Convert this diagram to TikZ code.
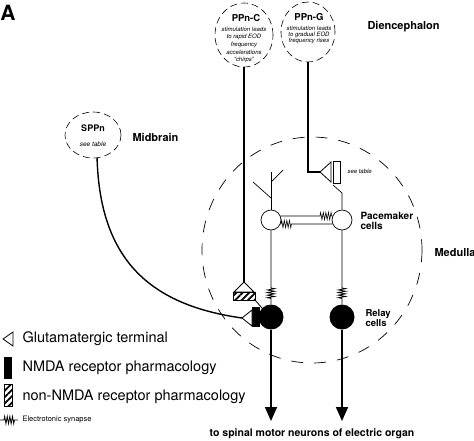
\documentclass[tikz,border=0pt]{standalone}
\usepackage{fontspec}
\setmainfont{TeX Gyre Heros}
\usetikzlibrary{shapes.geometric,arrows.meta,patterns.meta,decorations.pathmorphing}

\begin{document}
\begin{tikzpicture}[x=1pt,y=-1pt,
  nucleus/.style={draw, ellipse, dash pattern=on 7pt off 4pt, line width=0.6pt, inner sep=0pt},
  region/.style={anchor=west, font=\fontsize{11}{13}\selectfont\bfseries},
  title/.style={font=\fontsize{9.5}{11}\selectfont\bfseries},
  note/.style={align=center, font=\fontsize{6}{7}\selectfont\itshape},
  keytext/.style={anchor=west, font=\fontsize{14.5}{17}\selectfont},
  pacer/.style={draw, circle, fill=white, minimum size=20pt, inner sep=0pt, line width=0.7pt},
  relay/.style={circle, fill=black, minimum size=25pt, inner sep=0pt},
  axon/.style={line width=1.4pt},
  gapjn/.style={decoration={zigzag, segment length=2.6pt, amplitude=3.6pt}},
  nmda/.style={fill=black},
  nonnmda/.style={draw, line width=0.7pt, pattern={Lines[angle=45, distance=4.5pt, line width=1.8pt]}},
  glut/.style={draw, fill=white, line width=0.8pt}]
\useasboundingbox (0,0) rectangle (474,440);
%\draw [help lines, step=20] (0,0) grid (474,440);
\node [font=\fontsize{21}{24}\selectfont\bfseries] (panel) at (8,13) {A};

% medulla outline
\draw [dash pattern=on 12pt off 11pt, line width=0.7pt] (312,250) ellipse [x radius=110, y radius=113];

% nuclei
\node [nucleus, minimum width=58pt, minimum height=64pt] (ppnc) at (244,35) {};
\node [nucleus, minimum width=54pt, minimum height=60pt] (ppng) at (308,32) {};
\node [nucleus, minimum width=56pt, minimum height=46pt] (sppn) at (93,135) {};
\node [title] (ppnctitle) at (246,18) {PPn-C};
\node [note, font=\fontsize{6}{7.6}\selectfont\itshape] (ppnctext) at (244,45) {stimulation leads\\to rapid EOD\\frequency\\accelerations\\``chirps''};
\node [title] (ppngtitle) at (309,17) {PPn-G};
\node [note, font=\fontsize{6}{6.4}\selectfont\itshape] (ppngtext) at (309,35) {stimulation leads\\to gradual EOD\\frequency rises};
\node [title, font=\fontsize{9}{11}\selectfont\bfseries] (sppntitle) at (93,128) {SPPn};
\node [note, font=\fontsize{6.5}{7}\selectfont\itshape] (sppntext) at (93,144) {see table};
\node [region] (dien) at (364,27) {Diencephalon};
\node [region] (mid) at (129,137) {Midbrain};
\node [region] (med) at (431,253) {Medulla};

% cells
\node [pacer] (pmL) at (271,220) {};
\node [pacer] (pmR) at (342,220) {};
\node [relay] (rlL) at (271,317) {};
\node [relay] (rlR) at (342,317) {};
\node [anchor=west, align=left, font=\fontsize{10}{10}\selectfont\bfseries] (pmlabel) at (357,221) {Pacemaker\\cells};
\node [anchor=west, align=left, font=\fontsize{9.5}{9.5}\selectfont\bfseries] (rllabel) at (362,318) {Relay\\cells};
\node [note, anchor=west] (seetab) at (344,171) {see table};

% pacemaker dendrites
\draw [line width=0.7pt] (pmL.north) -- (271,172);
\draw [line width=0.7pt] (271,198) -- (253,182);
\draw [line width=0.7pt] (271,182) -- (283,170);
\draw [line width=0.7pt] (pmR.north) -- (342,193) -- (333,185);

% electrotonic coupling
\draw [line width=0.6pt] (pmL.23) -- (320,216) decorate[gapjn]{-- (332,216)} -- (pmR.157);
\draw [line width=0.6pt] (pmL.-23) -- (281,224) decorate[gapjn]{-- (292,224)} -- (pmR.-157);
\draw [line width=0.8pt] (pmL.south) -- (271,288) decorate[gapjn]{-- (271,299)} -- (rlL.north);
\draw [line width=0.8pt] (pmR.south) -- (342,288) decorate[gapjn]{-- (342,299)} -- (rlR.north);

% PPn-G input
\coordinate (tipG) at (320,172);
\draw [axon] (ppng.south) |- (tipG);
\draw [glut] (tipG) -- (331,162) -- (331,182) -- cycle;
\draw [line width=0.8pt, fill=white] (333,161) rectangle (340,183);

% PPn-C input
\coordinate (tipC) at (244,282);
\draw [axon] (ppnc.south) -- (tipC);
\draw [glut] (tipC) -- (234,292) -- (254,292) -- cycle;
\draw [nonnmda] (233,292) rectangle (255,300);
\draw [line width=0.8pt] (255,300) -- (rlL.135);

% SPPn input
\coordinate (tipS) at (242,318);
\draw [axon] (sppn.-80) .. controls (100,260) and (150,305) .. (tipS);
\fill [nmda] (252,307) rectangle (260,327);
\draw [glut] (tipS) -- (252,310) -- (252,326) -- cycle;

% output
\coordinate (outL) at (271,421);
\coordinate (outR) at (342,421);
\draw [line width=1.8pt, -{Triangle[width=12pt,length=14pt]}] (rlL.south) -- (outL);
\draw [line width=1.8pt, -{Triangle[width=12pt,length=14pt]}] (rlR.south) -- (outR);
\node [font=\fontsize{10.5}{12}\selectfont\bfseries] (spinal) at (312,434) {to spinal motor neurons of electric organ};

% key
\draw [glut] (3,339) -- (13,332) -- (13,346) -- cycle;
\fill [nmda] (4,357) rectangle (12,379);
\draw [nonnmda] (4,384) rectangle (12,406);
\draw [line width=0.8pt] (0,420) -- (4,420) decorate[gapjn]{-- (15,420)} -- (18,420);
\node [keytext] (k1) at (19,339) {Glutamatergic terminal};
\node [keytext] (k2) at (19,368) {NMDA receptor pharmacology};
\node [keytext] (k3) at (19,397) {non-NMDA receptor pharmacology};
\node [keytext, font=\fontsize{7.5}{9}\selectfont] (k4) at (19,420) {Electrotonic synapse};
\end{tikzpicture}
\end{document}
